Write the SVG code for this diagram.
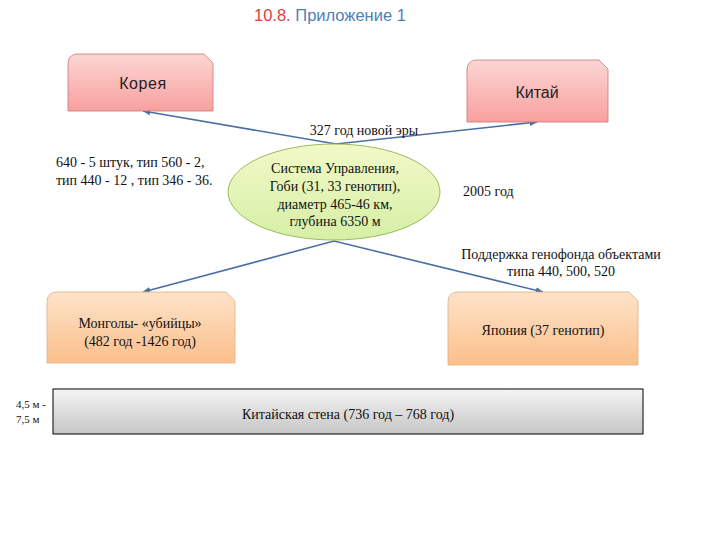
<svg xmlns="http://www.w3.org/2000/svg" width="720" height="540" viewBox="0 0 720 540">
<defs>
<linearGradient id="gPink" x1="0" y1="0" x2="0" y2="1"><stop offset="0" stop-color="#fcd6d4"/><stop offset="1" stop-color="#f8a09e"/></linearGradient>
<linearGradient id="gPeach" x1="0" y1="0" x2="0" y2="1"><stop offset="0" stop-color="#fde3c8"/><stop offset="1" stop-color="#fbbf8c"/></linearGradient>
<linearGradient id="gGreen" x1="0" y1="0" x2="0" y2="1"><stop offset="0" stop-color="#f2f9c8"/><stop offset="1" stop-color="#d6efa6"/></linearGradient>
<linearGradient id="gGray" x1="0" y1="0" x2="0" y2="1"><stop offset="0" stop-color="#f4f4f4"/><stop offset="1" stop-color="#c6c6c6"/></linearGradient>
<marker id="arr" viewBox="0 0 10 10" refX="9" refY="5" markerWidth="5" markerHeight="5" orient="auto-start-reverse"><path d="M0,1 L10,5 L0,9 z" fill="#4a6fa5"/></marker>
<style>
.serif{font-family:"Liberation Serif","Times New Roman",serif;font-size:14px;fill:#111}
.sans{font-family:"Liberation Sans",Arial,sans-serif;font-size:16px;fill:#222}
.conn{fill:none;stroke:#4a6fa5;stroke-width:1.6}
</style>
</defs>
<text x="254" y="21" font-family="'Liberation Sans',Arial,sans-serif" font-size="16.5"><tspan fill="#d9413c">10.8.</tspan><tspan fill="#4f7fb5"> Приложение 1</tspan></text>
<g id="connectors">
<polyline class="conn" points="143,111 336,144 537,122" marker-start="url(#arr)" marker-end="url(#arr)"/>
<polyline class="conn" points="143,292 334,241 543,292" marker-start="url(#arr)" marker-end="url(#arr)"/>
</g>
<g id="korea">
<path d="M78,54 H204 L213,63 V111 H68 V64 Q68,54 78,54 Z" fill="url(#gPink)" stroke="#c77" stroke-width="0.8"/>
<text class="sans" x="143" y="89" text-anchor="middle" letter-spacing="0.6">Корея</text>
</g>
<g id="china">
<path d="M477,60 H599 L608,69 V122 H467 V70 Q467,60 477,60 Z" fill="url(#gPink)" stroke="#c77" stroke-width="0.8"/>
<text class="sans" x="537" y="98" text-anchor="middle">Китай</text>
</g>
<text class="serif" x="364" y="135" text-anchor="middle">327 год новой эры</text>
<g id="gobi">
<ellipse cx="334" cy="192" rx="106" ry="48" fill="url(#gGreen)" stroke="#9bbb59" stroke-width="1"/>
<text class="serif" text-anchor="middle" font-size="14.5"><tspan x="335" y="173">Система Управления,</tspan><tspan x="335" y="191">Гоби (31, 33 генотип),</tspan><tspan x="335" y="209">диаметр 465-46 км,</tspan><tspan x="335" y="226">глубина 6350 м</tspan></text>
</g>
<text class="serif"><tspan x="56" y="167">640 - 5 штук, тип 560 - 2,</tspan><tspan x="56" y="185">тип 440 - 12 , тип 346 - 36.</tspan></text>
<text class="serif" x="463" y="196">2005 год</text>
<text class="serif" text-anchor="middle"><tspan x="561" y="259">Поддержка генофонда объектами</tspan><tspan x="561" y="276">типа 440, 500, 520</tspan></text>
<g id="mongols">
<path d="M57,292 H226 L235,301 V363 H47 V302 Q47,292 57,292 Z" fill="url(#gPeach)" stroke="#e0b080" stroke-width="0.8"/>
<text class="serif" text-anchor="middle"><tspan x="140" y="328">Монголы- «убийцы»</tspan><tspan x="140" y="346">(482 год -1426  год)</tspan></text>
</g>
<g id="japan">
<path d="M458,292 H629 L638,301 V365 H448 V302 Q448,292 458,292 Z" fill="url(#gPeach)" stroke="#e0b080" stroke-width="0.8"/>
<text class="serif" x="543" y="335" text-anchor="middle">Япония (37 генотип)</text>
</g>
<g id="wall">
<rect x="53" y="389" width="590" height="45" fill="url(#gGray)" stroke="#000" stroke-width="1"/>
<text class="serif" x="242" y="419">Китайская стена (736 год – 768 год)</text>
</g>
<text font-family="'Liberation Serif','Times New Roman',serif" font-size="11" fill="#111"><tspan x="16" y="408">4,5 м -</tspan><tspan x="16" y="423">7,5 м</tspan></text>
</svg>
